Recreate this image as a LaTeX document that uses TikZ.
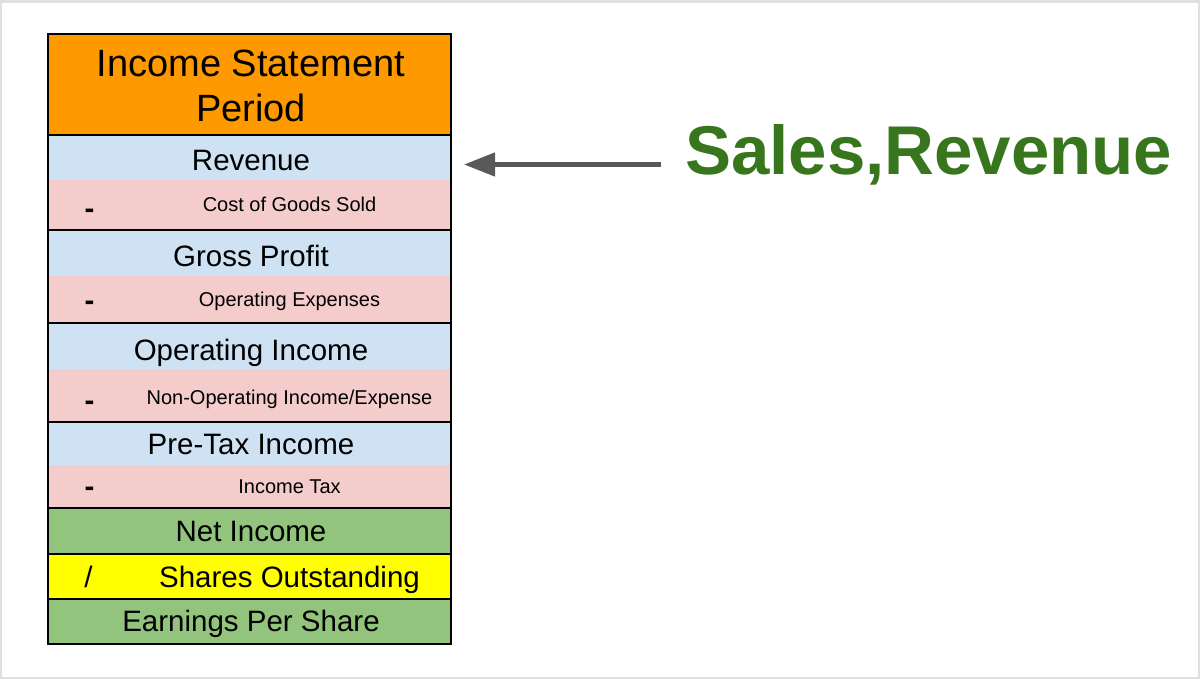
\documentclass[tikz,border=0pt]{standalone}
\usepackage{fontspec}
\setmainfont{Liberation Sans}
\usetikzlibrary{positioning,arrows.meta}

\definecolor{framegray}{HTML}{E0E0E0}
\definecolor{hdrorange}{HTML}{FF9900}
\definecolor{rowblue}{HTML}{CFE2F3}
\definecolor{rowpink}{HTML}{F4CCCC}
\definecolor{rowgreen}{HTML}{93C47D}
\definecolor{rowyellow}{HTML}{FFFF00}
\definecolor{salesgreen}{HTML}{38761D}
\definecolor{arrowgray}{HTML}{595959}

\tikzset{
    rowbox/.style 2 args={ % #1 = fill colour, #2 = height
        rectangle, fill=#1, draw=none, inner sep=0pt, outer sep=0pt,
        minimum width=403pt, minimum height=#2pt
    },
    headtext/.style={
        font=\fontsize{38}{45}\selectfont,
        align=center, inner sep=0pt
    },
    bigtext/.style={
        font=\fontsize{29.5}{35}\selectfont,
        anchor=base, inner sep=0pt
    },
    smalltext/.style={
        font=\fontsize{20}{24}\selectfont,
        anchor=base, inner sep=0pt
    },
    signtext/.style={
        font=\bfseries\fontsize{29.5}{35}\selectfont,
        anchor=base, inner sep=0pt
    }
}

\begin{document}
\begin{tikzpicture}[
    x=1pt, y=-1pt,
    rule/.style={draw=black, line width=2.8pt},
    arrow/.style={-{Triangle[length=31pt,width=23pt]}, draw=arrowgray, line width=4.5pt},
]

\useasboundingbox (0,0) rectangle (1200,679);
\fill[framegray] (0,0) rectangle (1200,679);
\fill[white] (2,3) rectangle (1197.5,676.5);

% ===============================
%          statement rows
% ===============================

\node[rowbox={hdrorange}{101}] (header) at (249.5,84.5) {};
\node[rowbox={rowblue}{45}, below=0pt of header] (revenue) {};
\node[rowbox={rowpink}{50}, below=0pt of revenue] (cogs) {};
\node[rowbox={rowblue}{46}, below=0pt of cogs] (gross) {};
\node[rowbox={rowpink}{47}, below=0pt of gross] (opex) {};
\node[rowbox={rowblue}{46}, below=0pt of opex] (opinc) {};
\node[rowbox={rowpink}{53}, below=0pt of opinc] (nonop) {};
\node[rowbox={rowblue}{43}, below=0pt of nonop] (pretax) {};
\node[rowbox={rowpink}{43}, below=0pt of pretax] (tax) {};
\node[rowbox={rowgreen}{46}, below=0pt of tax] (net) {};
\node[rowbox={rowyellow}{45}, below=0pt of net] (shares) {};
\node[rowbox={rowgreen}{45}, below=0pt of shares] (eps) {};


% ===============================
%           rules
% ===============================

\foreach \row in {header, cogs, opex, nonop, tax, net, shares}
    \draw[rule] (\row.south west) -- (\row.south east);
\draw[rule] (header.north west) rectangle (eps.south east);


% ===============================
%           labels
% ===============================

\node[headtext] (title) at (251,85.7) {Income Statement\\Period};

\node[bigtext] (revenuetxt) at (251,171) {Revenue};
\node[smalltext] (cogstxt) at (289.5,212) {Cost of Goods Sold};
\node[bigtext] (grosstxt) at (251,266) {Gross Profit};
\node[smalltext] (opextxt) at (289.5,306) {Operating Expenses};
\node[bigtext] (opinctxt) at (251,360) {Operating Income};
\node[smalltext] (nonoptxt) at (289.5,404) {Non-Operating Income/Expense};
\node[bigtext] (pretaxtxt) at (251,454) {Pre-Tax Income};
\node[smalltext] (taxtxt) at (289.5,493) {Income Tax};
\node[bigtext] (nettxt) at (251,541.5) {Net Income};
\node[bigtext] (sharestxt) at (289.5,587) {Shares Outstanding};
\node[bigtext] (epstxt) at (251,631.5) {Earnings Per Share};

% minus / divide signs
\node[signtext] (minus1) at (89.5,219) {-};
\node[signtext] (minus2) at (89.5,310) {-};
\node[signtext] (minus3) at (89.5,410.5) {-};
\node[signtext] (minus4) at (89.5,496.5) {-};
\node[bigtext] (divide) at (88.5,587) {/};


% ===============================
%        sales callout
% ===============================

\node[anchor=base west, inner sep=0pt, text=salesgreen,
      font=\bfseries\fontsize{69}{80}\selectfont] (sales) at (685,175) {Sales,Revenue};

\coordinate (tail) at (661,164.5);
\draw[arrow, shorten >=13pt] (tail) -- (tail -| revenue.east);

\end{tikzpicture}
\end{document}
